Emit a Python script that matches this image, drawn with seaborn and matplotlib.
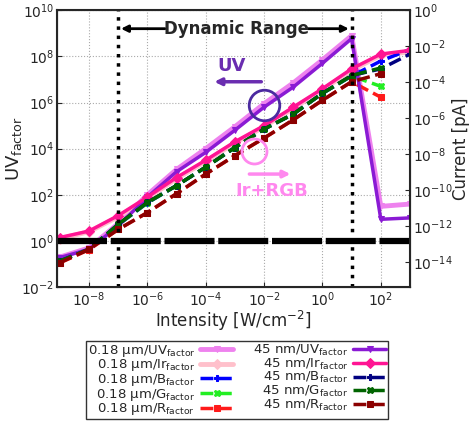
import numpy as np
import matplotlib.pyplot as plt
import seaborn as sns

sns.set_style("ticks")
plt.rcParams['font.family'] = ['DejaVu Sans']

# intensity exponents (W/cm^2)
log_x = [-9, -8, -7, -6, -5, -4, -3, -2, -1, 0, 1, 2, 3]

# log10 of the factor
uv_018 = [-0.7, -0.3, 0.75, 2.0, 3.1, 4.0, 4.95, 5.95, 6.85, 7.85, 8.9, 1.5, 1.6]
ir_018 = [0.1, 0.4, 1.05, 1.85, 2.7, 3.45, 4.25, 4.95, 5.75, 6.55, 7.4, 8.05, 8.2]
b_018 = [-0.85, -0.35, 0.7, 1.65, 2.4, 3.2, 4.05, 4.85, 5.5, 6.4, 7.15, 7.8, 8.3]
g_018 = [-0.85, -0.35, 0.7, 1.65, 2.4, 3.2, 4.05, 4.85, 5.5, 6.4, 7.15, 6.7]
r_018 = [-0.95, -0.38, 0.5, 1.23, 2.05, 2.9, 3.7, 4.46, 5.25, 6.1, 6.9, 6.23]
uv_45 = [-0.72, -0.36, 0.65, 1.9, 3.0, 3.84, 4.8, 5.8, 6.67, 7.7, 8.77, 0.94, 1.0]
ir_45 = [0.15, 0.43, 1.1, 1.9, 2.75, 3.5, 4.3, 5.0, 5.8, 6.6, 7.46, 8.1, 8.26]
b_45 = [-0.87, -0.36, 0.72, 1.67, 2.4, 3.2, 4.05, 4.85, 5.5, 6.4, 7.17, 7.46, 8.1]
g_45 = [-0.87, -0.36, 0.72, 1.67, 2.4, 3.2, 4.05, 4.85, 5.5, 6.4, 7.17, 7.5]
r_45 = [-0.94, -0.36, 0.5, 1.23, 2.05, 2.9, 3.7, 4.46, 5.25, 6.1, 6.9, 7.25]

series = [
    ("0.18 µm/UV$_{\\mathrm{factor}}$", uv_018, "#ee82ee", "v", "-", 3.5),
    ("0.18 µm/Ir$_{\\mathrm{factor}}$", ir_018, "#ffc0cb", "D", "-", 3.5),
    ("0.18 µm/B$_{\\mathrm{factor}}$", b_018, "#0000ff", "P", "--", 2.5),
    ("0.18 µm/G$_{\\mathrm{factor}}$", g_018, "#22ee22", "X", "--", 2.5),
    ("0.18 µm/R$_{\\mathrm{factor}}$", r_018, "#ff1a1a", "s", "--", 2.5),
    ("45 nm/UV$_{\\mathrm{factor}}$", uv_45, "#8a1ad4", "v", "-", 2.5),
    ("45 nm/Ir$_{\\mathrm{factor}}$", ir_45, "#ff1493", "D", "-", 2.5),
    ("45 nm/B$_{\\mathrm{factor}}$", b_45, "#000080", "P", "--", 2.5),
    ("45 nm/G$_{\\mathrm{factor}}$", g_45, "#006400", "X", "--", 2.5),
    ("45 nm/R$_{\\mathrm{factor}}$", r_45, "#8b0000", "s", "--", 2.5),
]

fig = plt.figure(figsize=(4.74, 4.26), dpi=100)
ax = fig.add_axes([0.12, 0.326, 0.745, 0.65])

for label, ys, col, mk, ls, lw in series:
    xs = [10.0 ** v for v in log_x[:len(ys)]]
    yv = [10.0 ** v for v in ys]
    sns.lineplot(x=xs, y=yv, ax=ax, color=col, marker=mk, markersize=5,
                 markeredgecolor=col, linestyle=ls, linewidth=lw, label=label)

ax.set_xscale("log")
ax.set_yscale("log")
ax.set_xlim(10 ** -9.1, 1e3)
ax.set_ylim(1e-2, 1e10)
ax.set_xticks([1e-8, 1e-6, 1e-4, 1e-2, 1e0, 1e2])
ax.set_yticks([1e-2, 1e0, 1e2, 1e4, 1e6, 1e8, 1e10])
ax.minorticks_off()
ax.grid(True, which="major", linestyle=":", color="#aaaaaa")
for s in ax.spines.values():
    s.set_linewidth(1.5)
ax.tick_params(labelsize=10, direction="in", pad=2)

ax.axhline(1, color="black", linewidth=4.5, linestyle=(0, (8, 0.6)))
ax.axvline(1e-7, color="black", linewidth=2.5, linestyle=":")
ax.axvline(1e1, color="black", linewidth=2.5, linestyle=":")
ax.annotate("", xy=(1e-7, 10 ** 9.2), xytext=(10 ** -5.3, 10 ** 9.2),
            arrowprops=dict(arrowstyle="-|>", color="black", lw=2))
ax.annotate("", xy=(1e1, 10 ** 9.2), xytext=(10 ** -0.6, 10 ** 9.2),
            arrowprops=dict(arrowstyle="-|>", color="black", lw=2))
ax.text(10 ** -2.95, 10 ** 9.2, "Dynamic Range", ha="center", va="center",
        fontsize=12, fontweight="bold")

ax.text(10 ** -3.1, 10 ** 7.6, "UV", color="#6a2db0", fontsize=13,
        fontweight="bold", ha="center", va="center")
ax.annotate("", xy=(10 ** -3.8, 10 ** 6.9), xytext=(10 ** -2.0, 10 ** 6.9),
            arrowprops=dict(arrowstyle="-|>", color="#6a2db0", lw=2.5))
ax.plot([10 ** -2.0], [10 ** 5.9], marker="o", markersize=22, mfc="none",
        mec="#4b2aa0", mew=2)
ax.plot([10 ** -2.35], [10 ** 3.9], marker="o", markersize=18, mfc="none",
        mec="#ff88ee", mew=2)
ax.annotate("", xy=(10 ** -1.0, 10 ** 2.9), xytext=(10 ** -2.6, 10 ** 2.9),
            arrowprops=dict(arrowstyle="-|>", color="#ff88ee", lw=2.5))
ax.text(10 ** -1.75, 10 ** 2.15, "Ir+RGB", color="#ff88ee", fontsize=13,
        fontweight="bold", ha="center", va="center")

ax.set_xlabel("Intensity [W/cm$^{-2}$]", fontsize=12, labelpad=0)
ax.set_ylabel("UV$_{\\mathrm{factor}}$", fontsize=13, labelpad=-2)

ax2 = ax.twinx()
ax2.set_yscale("log")
ax2.set_ylim(10 ** -15.4, 1e0)
ax2.set_yticks([10.0 ** e for e in range(-14, 1, 2)])
ax2.minorticks_off()
ax2.tick_params(labelsize=10, direction="in", pad=2)
ax2.set_ylabel("Current [pA]", fontsize=12, labelpad=0)

h, l = ax.get_legend_handles_labels()
ax.get_legend().remove()
fig.legend(h, l, loc="lower center", bbox_to_anchor=(0.5, 0.0), ncol=2,
           markerfirst=False, fontsize=9.5, frameon=True, fancybox=False,
           edgecolor="black", handlelength=2.5, labelspacing=-0.1,
           borderpad=0.15, columnspacing=1.5, handletextpad=0.4)

fig.savefig("out.png", dpi=100)
